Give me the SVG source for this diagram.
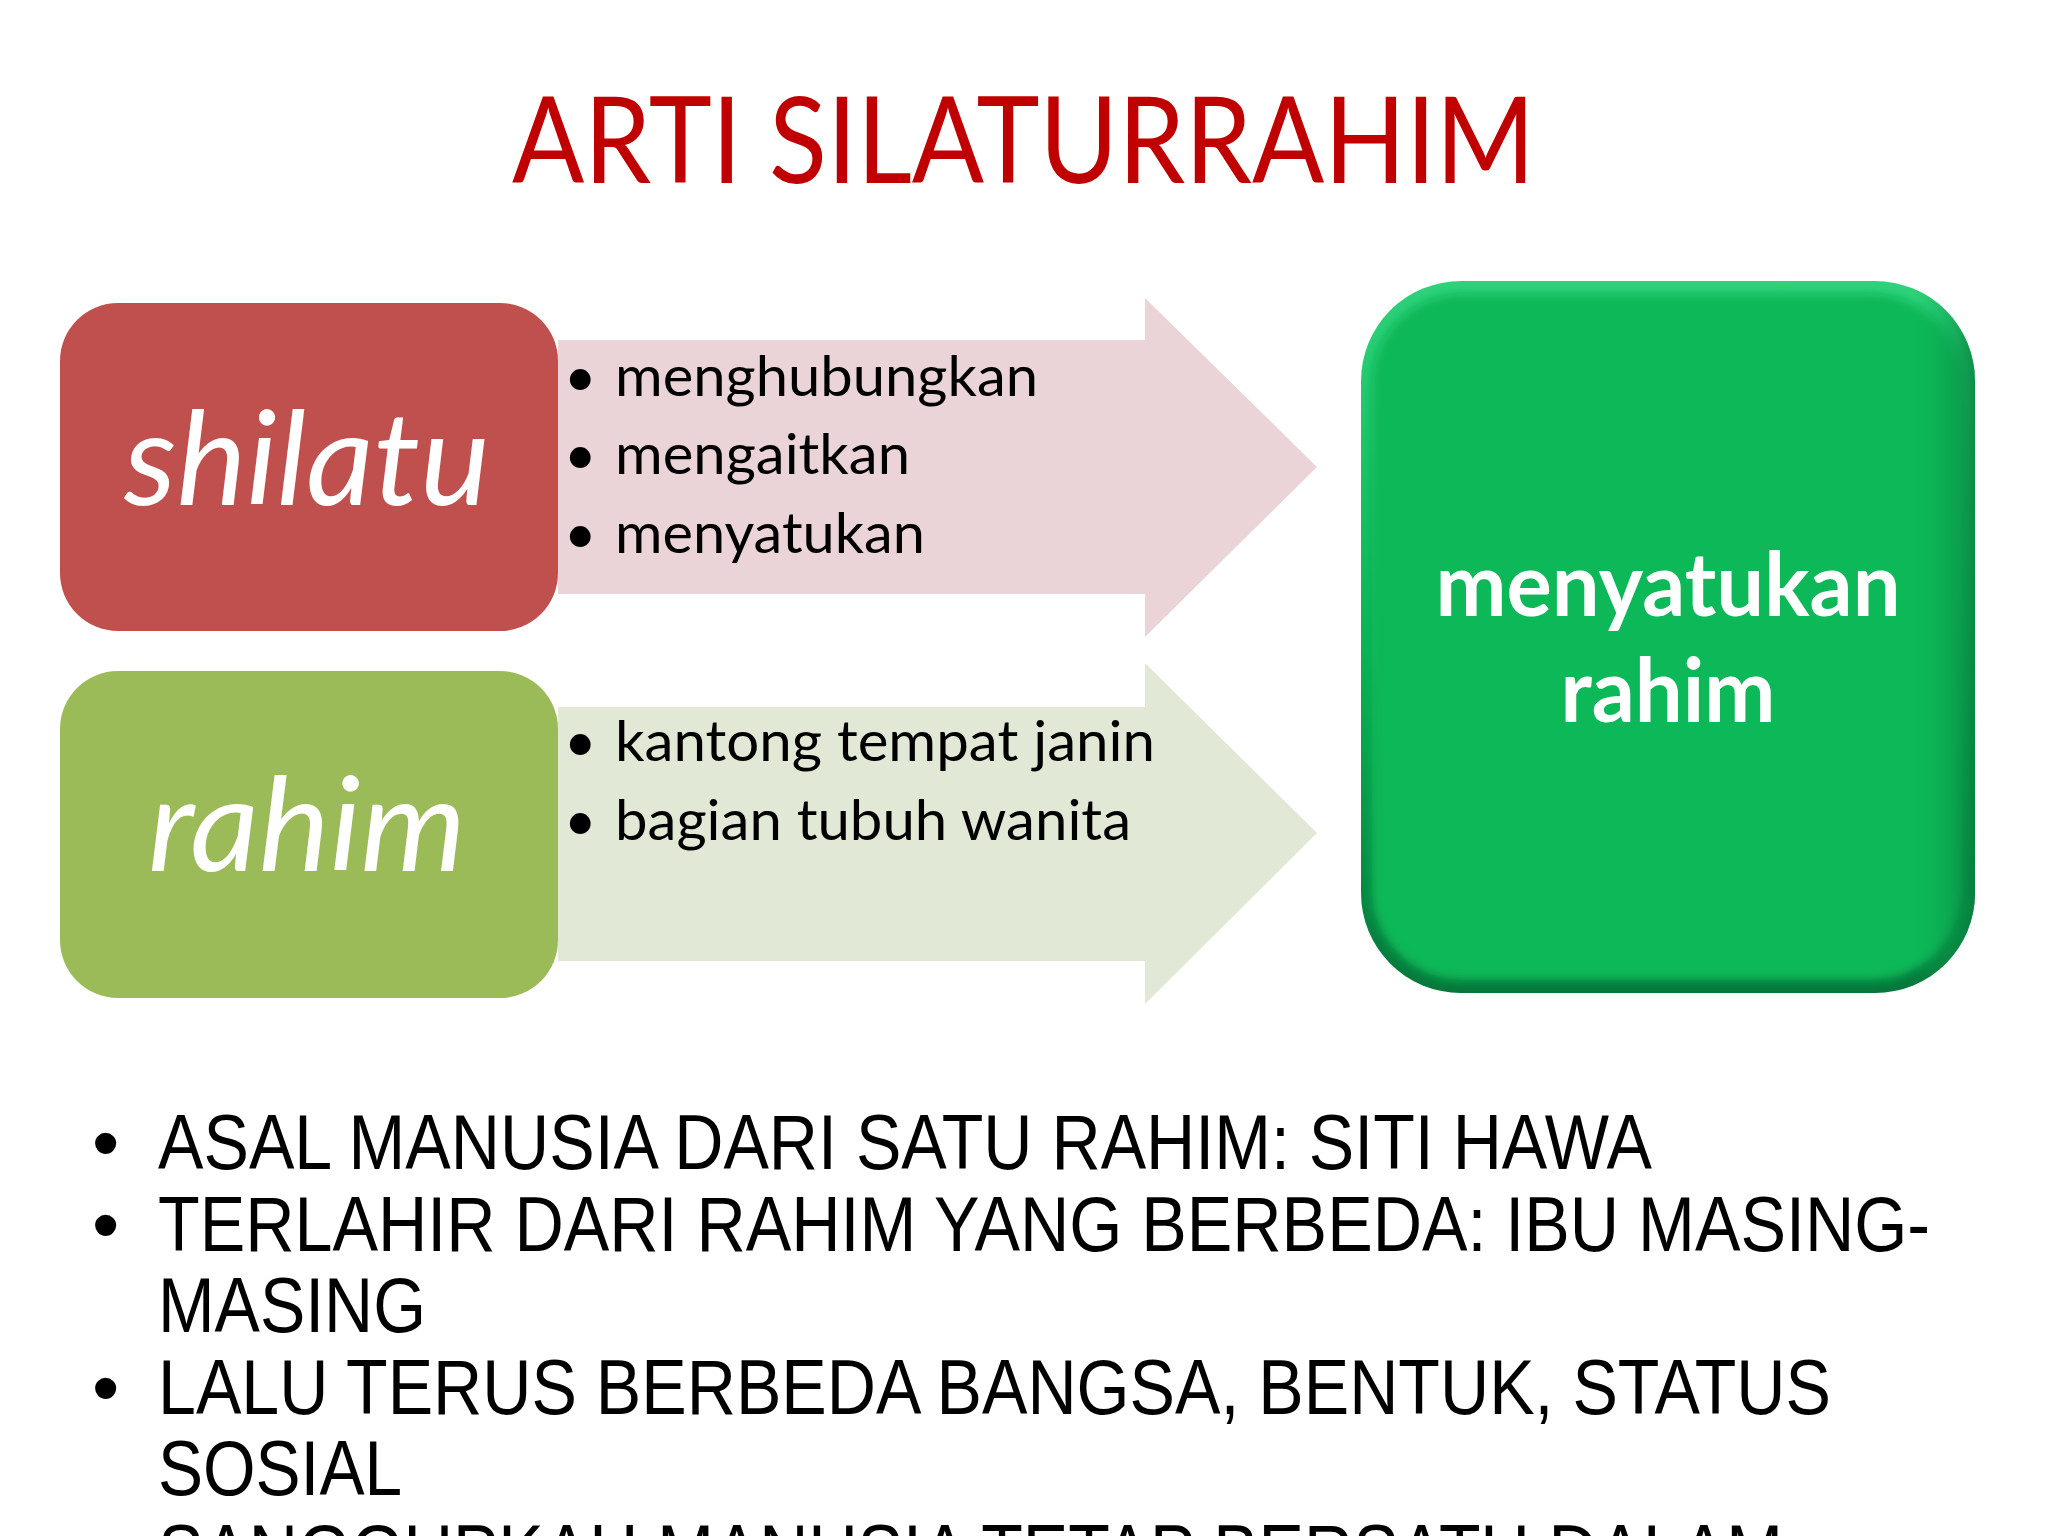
<svg xmlns="http://www.w3.org/2000/svg" width="2048" height="1536" viewBox="0 0 2048 1536">
<style>
.title{font-family:Lato,"Open Sans","Liberation Sans",sans-serif;font-size:120px;fill:#C00000}
.big{font-family:Lato,"Open Sans","Liberation Sans",sans-serif;font-style:italic;font-size:130px;fill:#FFFFFF}
.item{font-family:Lato,"Open Sans","Liberation Sans",sans-serif;font-size:56px;fill:#000000}
.res{font-family:Lato,"Open Sans","Liberation Sans",sans-serif;font-weight:bold;font-size:88px;fill:#FFFFFF}
.body{font-family:"Liberation Sans",Arial,sans-serif;font-size:78px;fill:#000000}
</style>
<defs>
<linearGradient id="bevel" x1="0" y1="0" x2="0" y2="1">
<stop offset="0" stop-color="#2FD27A"/>
<stop offset="0.5" stop-color="#0AB556"/>
<stop offset="1" stop-color="#06773A"/>
</linearGradient>
<linearGradient id="bevelR" x1="0" y1="0" x2="1" y2="0">
<stop offset="0" stop-color="#0AB556" stop-opacity="0"/>
<stop offset="0.9" stop-color="#0AB556" stop-opacity="0"/>
<stop offset="1" stop-color="#077F3E" stop-opacity="0.8"/>
</linearGradient>
<filter id="soft" x="-5%" y="-5%" width="110%" height="110%">
<feGaussianBlur stdDeviation="5"/>
</filter>
</defs>
<rect width="2048" height="1536" fill="#FFFFFF"/>
<text class="title" x="512" y="183" textLength="1023" lengthAdjust="spacingAndGlyphs">ARTI SILATURRAHIM</text>
<g id="connectors">
<g id="arrow-shilatu">
<polygon points="558,340 1145,340 1145,298 1317,467 1145,637 1145,594 558,594" fill="#EAD4D8"/>
<text class="item" x="564" y="396">•</text>
<text class="item" x="615" y="396" textLength="423" lengthAdjust="spacingAndGlyphs">menghubungkan</text>
<text class="item" x="564" y="474">•</text>
<text class="item" x="615" y="474" textLength="295" lengthAdjust="spacingAndGlyphs">mengaitkan</text>
<text class="item" x="564" y="553">•</text>
<text class="item" x="615" y="553" textLength="310" lengthAdjust="spacingAndGlyphs">menyatukan</text>
</g>
<g id="arrow-rahim">
<polygon points="558,707 1145,707 1145,663 1317,833 1145,1004 1145,961 558,961" fill="#E2E8D6"/>
<text class="item" x="564" y="761">•</text>
<text class="item" x="615" y="761" textLength="540" lengthAdjust="spacingAndGlyphs">kantong tempat janin</text>
<text class="item" x="564" y="840">•</text>
<text class="item" x="615" y="840" textLength="516" lengthAdjust="spacingAndGlyphs">bagian tubuh wanita</text>
</g>
</g>
<g id="node-shilatu">
<rect x="60" y="303" width="498" height="328" rx="58" ry="58" fill="#C0504D"/>
<text class="big" x="124" y="505" textLength="366" lengthAdjust="spacingAndGlyphs">shilatu</text>
</g>
<g id="node-rahim">
<rect x="60" y="671" width="498" height="327" rx="58" ry="58" fill="#9BBB59"/>
<text class="big" x="148" y="871" textLength="318" lengthAdjust="spacingAndGlyphs">rahim</text>
</g>
<g id="node-result">
<rect x="1361" y="281" width="614" height="712" rx="100" ry="100" fill="url(#bevel)"/>
<rect x="1372" y="294" width="590" height="686" rx="90" ry="90" fill="#09B858" filter="url(#soft)"/>
<rect x="1361" y="281" width="614" height="712" rx="100" ry="100" fill="url(#bevelR)"/>
<text class="res" x="1668" y="616" text-anchor="middle" textLength="465" lengthAdjust="spacingAndGlyphs">menyatukan</text>
<text class="res" x="1668" y="722" text-anchor="middle" textLength="215" lengthAdjust="spacingAndGlyphs">rahim</text>
</g>
<g id="bullets">
<text class="body" x="92" y="1169">•</text>
<text class="body" x="158" y="1169" textLength="1494" lengthAdjust="spacingAndGlyphs">ASAL MANUSIA DARI SATU RAHIM: SITI HAWA</text>
<text class="body" x="92" y="1251">•</text>
<text class="body" x="158" y="1251" textLength="1772" lengthAdjust="spacingAndGlyphs">TERLAHIR DARI RAHIM YANG BERBEDA: IBU MASING-</text>
<text class="body" x="158" y="1332" textLength="268" lengthAdjust="spacingAndGlyphs">MASING</text>
<text class="body" x="92" y="1414">•</text>
<text class="body" x="158" y="1414" textLength="1673" lengthAdjust="spacingAndGlyphs">LALU TERUS BERBEDA BANGSA, BENTUK, STATUS</text>
<text class="body" x="158" y="1495" textLength="244" lengthAdjust="spacingAndGlyphs">SOSIAL</text>
<text class="body" x="92" y="1579">•</text>
<text class="body" x="158" y="1579" textLength="1625" lengthAdjust="spacingAndGlyphs">SANGGUPKAH MANUSIA TETAP BERSATU DALAM</text>
</g>
</svg>
